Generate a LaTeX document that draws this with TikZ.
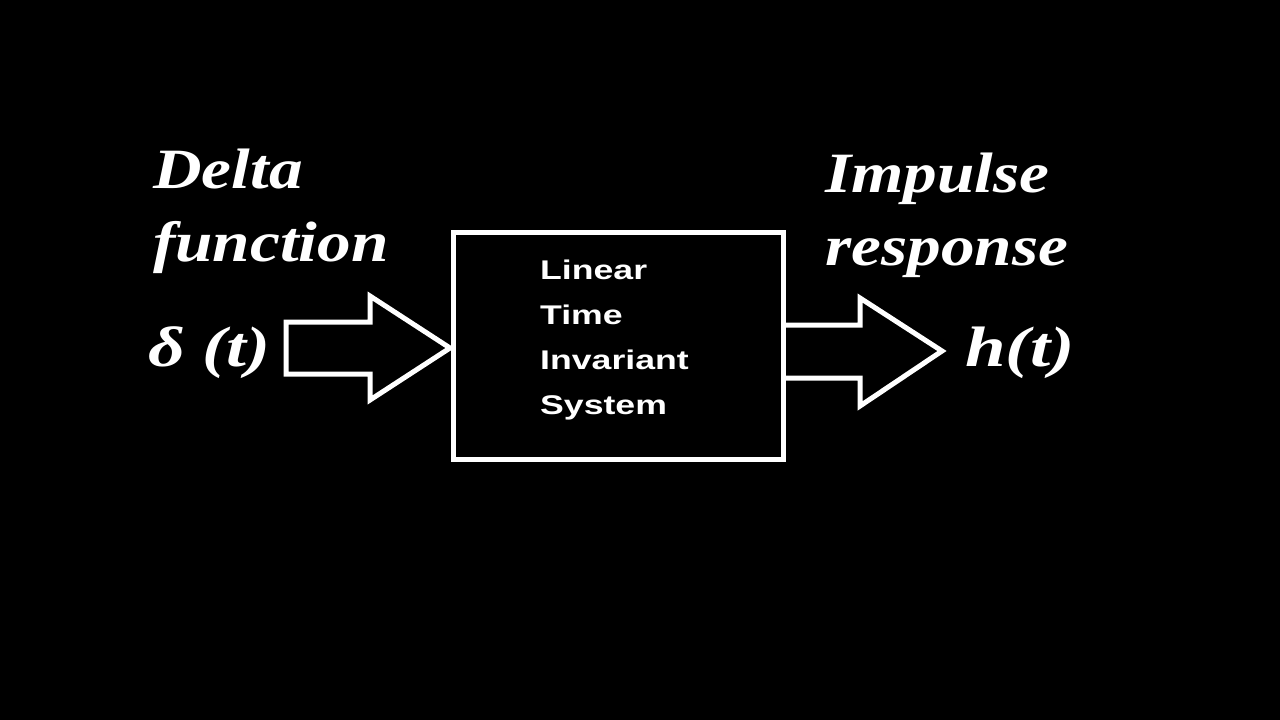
\documentclass[tikz,border=0pt]{standalone}
\usepackage{fontspec}
\setmainfont{Liberation Serif}
\newfontfamily\boxfont{Liberation Sans}
\newcommand{\wide}[2]{\scalebox{#1}[1]{#2}}
\begin{document}
\begin{tikzpicture}[x=1pt,y=-1pt,
  lbl/.style={text=white,anchor=base west,inner sep=0pt,font=\fontsize{57}{58}\selectfont\bfseries\itshape},
  inner/.style={text=white,anchor=base west,inner sep=0pt,font=\boxfont\fontsize{27}{30}\selectfont\bfseries},
  wl/.style={draw=white,line width=5pt}]
\fill[black] (0,0) rectangle (1280,720);
\useasboundingbox (0,0) rectangle (1280,720);
\node[wl,minimum width=330pt,minimum height=227pt,inner sep=0pt] (sys) at (618,345.5) {};
\node[inner] (l1) at (540,279) {\wide{1.32}{Linear}};
\node[inner] (l2) at (540,324) {\wide{1.32}{Time}};
\node[inner] (l3) at (540,369) {\wide{1.32}{Invariant}};
\node[inner] (l4) at (540,414) {\wide{1.32}{System}};
\draw[wl,line join=miter] (286,322) -- (370,322) -- (370,296) -- (450,348) -- (370,400) -- (370,374) -- (286,374) -- cycle;
\draw[wl,line join=miter] (sys.east |- 0,325) -- (860,325) -- (860,298) -- (942,351) -- (860,406) -- (860,378) -- (sys.east |- 0,378);
\node[lbl] (d1) at (153,188) {\wide{1.18}{Delta}};
\node[lbl] (d2) at (153,261) {\wide{1.18}{function}};
\node[lbl] (dt) at (148,366) {\wide{1.26}{δ (t)}};
\node[lbl] (i1) at (825,192) {\wide{1.18}{Impulse}};
\node[lbl] (i2) at (825,265) {\wide{1.18}{response}};
\node[lbl] (ht) at (965,366) {\wide{1.28}{h(t)}};
\end{tikzpicture}
\end{document}
